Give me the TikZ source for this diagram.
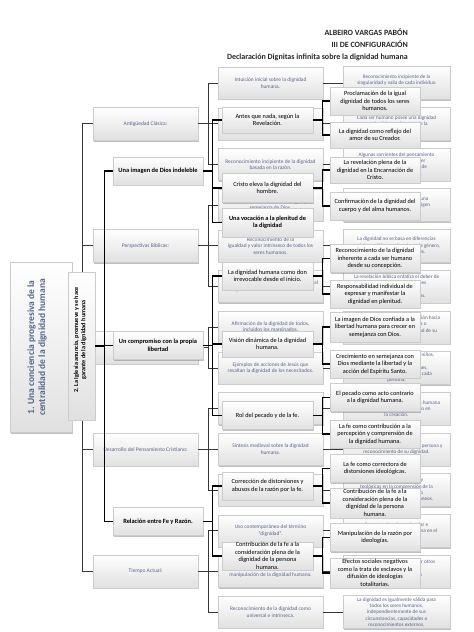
\documentclass[tikz,border=0pt]{standalone}
\usepackage{fontspec}
\setmainfont{Carlito}
\usetikzlibrary{shadows}

\definecolor{txA}{RGB}{88,102,138}
\definecolor{lnA}{RGB}{55,55,55}

\newcommand{\ctext}[2]{\hbox to 0pt{\hss\vbox to 0pt{\vss\hsize=#1\relax\centering #2\par\vss}\hss}}

\tikzset{
  shadowbox/.style={draw=black!20, line width=0.4pt, top color=white, bottom color=black!12, inner sep=0pt,
    drop shadow={shadow xshift=1.3pt, shadow yshift=-1.3pt, opacity=0.45, fill=black!55}},
  colAtwo/.style={shadowbox, minimum width=105pt, minimum height=33pt, text=txA, font=\fontsize{5.5}{6.6}\selectfont},
  colAthree/.style={shadowbox, minimum width=105pt, minimum height=32pt, text=txA, font=\fontsize{5.4}{6.5}\selectfont},
  colAfour/.style={shadowbox, minimum width=107pt, minimum height=33pt, text=txA, font=\fontsize{5.2}{6.3}\selectfont},
  colBtwo/.style={shadowbox, minimum width=90pt, minimum height=28pt, font=\bfseries\fontsize{6.4}{7.6}\selectfont},
  colBthree/.style={shadowbox, minimum width=91pt, minimum height=28pt, font=\fontsize{6.3}{7.5}\selectfont},
  colBfour/.style={shadowbox, minimum width=90pt, minimum height=28pt, font=\fontsize{6.3}{7.5}\selectfont},
  linkA/.style={draw=lnA, line width=0.8pt},
  linkB/.style={draw=black, line width=1.3pt},
}

\begin{document}
\begin{tikzpicture}[x=1pt,y=-1pt]
\useasboundingbox (0,0) rectangle (474,632);

% header
\node[anchor=east, align=right, font=\bfseries\fontsize{8}{12}\selectfont, text=black!85, inner sep=0pt] (title) at (408,45)
  {ALBEIRO VARGAS PABÓN\\III DE CONFIGURACIÓN\\Declaración Dignitas infinita sobre la dignidad humana};

% ================= TREE A =================
\node[shadowbox, minimum width=62pt, minimum height=170pt] (rootA) at (41,347.5) {};
\node[rotate=90, text=txA, font=\bfseries\fontsize{9.5}{11}\selectfont, align=center, inner sep=0pt] (rootAtext)
  at ([xshift=-4pt]rootA.center) {1. Una conciencia progresiva de la\\centralidad de la dignidad humana};

\node[colAtwo] (a21) at (145.5,123.7) {\ctext{100pt}{Antigüedad Clásica:}};
\node[colAtwo] (a22) at (145.5,245.8) {\ctext{100pt}{Perspectivas Bíblicas:}};
\node[colAtwo] (a23) at (145.5,347.5) {};
\node[colAtwo] (a24) at (145.5,449.3) {\ctext{100pt}{Desarrollo del Pensamiento Cristiano:}};
\node[colAtwo] (a25) at (145.5,571.4) {\ctext{100pt}{Tiempo Actual:}};

\node[colAthree] (a31) at (270.5,83) {\ctext{120pt}{Intuición inicial sobre la dignidad\\humana.}};
\node[colAthree] (a32) at (270.5,123.7) {};
\node[colAthree] (a33) at (270.5,164.4) {\ctext{120pt}{Reconocimiento incipiente de la dignidad\\basada en la razón.}};
\node[colAthree] (a34) at (270.5,205.1) {\ctext{120pt}{El ser humano creado a imagen y\\semejanza de Dios.}};
\node[colAthree] (a35) at (270.5,245.8) {\ctext{120pt}{Reconocimiento de la\\igualdad y valor intrínseco de todos los\\seres humanos.}};
\node[colAthree] (a36) at (270.5,286.5) {\ctext{120pt}{Enseñanza de Jesús sobre el amor universal\\y el cuidado de los necesitados.}};
\node[colAthree] (a37) at (270.5,327.2) {\ctext{120pt}{Afirmación de la dignidad de todos,\\incluidos los marginados.}};
\node[colAthree] (a38) at (270.5,367.9) {\ctext{120pt}{Ejemplos de acciones de Jesús que\\resaltan la dignidad de los necesitados.}};
\node[colAthree] (a39) at (270.5,408.6) {\ctext{120pt}{Aportes patrísticos y su contribución\\a la dignidad humana.}};
\node[colAthree] (a310) at (270.5,449.3) {\ctext{120pt}{Síntesis medieval sobre la dignidad\\humana.}};
\node[colAthree] (a311) at (270.5,490) {};
\node[colAthree] (a312) at (270.5,530.7) {\ctext{120pt}{Uso contemporáneo del término\\“dignidad”.}};
\node[colAthree] (a313) at (270.5,571.4) {\ctext{120pt}{Riesgo de la\\manipulación de la dignidad humana.}};
\node[colAthree] (a314) at (270.5,612.1) {\ctext{120pt}{Reconocimiento de la dignidad como\\universal e intrínseca.}};

\node[colAfour] (a41) at (396.5,83) {\ctext{120pt}{Reconocimiento incipiente de la\\singularidad y valía de cada individuo\\como seres humanos.}};
\node[colAfour] (a42) at (396.5,123.7) {\ctext{120pt}{Cada ser humano posee una dignidad\\que lo sitúa en el centro de la\\reflexión ética.}};
\node[colAfour] (a43) at (396.5,164.4) {\ctext{120pt}{Algunas corrientes del pensamiento\\comenzaron a valorar al ser\\humano por su capacidad de\\razón y responsabilidad.}};
\node[colAfour] (a44) at (396.5,205.1) {\ctext{120pt}{Los seres humanos tienen una\\dignidad que viene de su origen\\divino.}};
\node[colAfour] (a45) at (396.5,245.8) {\ctext{120pt}{La dignidad no se basa en diferencias\\sociales, políticas, culturales o de género,\\sino que es común a todos.}};
\node[colAfour] (a46) at (396.5,286.5) {\ctext{120pt}{La revelación bíblica enfatiza el deber de\\cuidar a los más vulnerables\\como los pobres, los\\extranjeros y los huérfanos.}};
\node[colAfour] (a47) at (396.5,327.2) {\ctext{120pt}{Jesús muestra especial predilección hacia\\los pobres, los marginados o\\excluidos, resaltando la dignidad de su\\condición.}};
\node[colAfour] (a48) at (396.5,367.9) {\ctext{120pt}{Jesús sana enfermos, acoge a niños,\\presta atención a\\pecadores en sus situaciones,\\reconociendo la dignidad de cada\\persona.}};
\node[colAfour] (a49) at (396.5,408.6) {\ctext{120pt}{Se subraya el valor de la persona humana\\como ser creado por el Único en\\la creación.}};
\node[colAfour] (a410) at (396.5,449.3) {\ctext{120pt}{Profundización en el concepto de persona y\\reconocimiento de su dignidad.}};
\node[colAfour] (a411) at (396.5,490) {\ctext{120pt}{Aportaciones filosóficas y\\teológicas en la comprensión de la\\persona: el personalismo\\y otros enfoques contemporáneos.}};
\node[colAfour] (a412) at (396.5,530.7) {\ctext{120pt}{Destacar el carácter singular e\\irrepetible de la persona humana en el\\mundo actual.}};
\node[colAfour] (a413) at (396.5,571.4) {\ctext{120pt}{La dignidad no es otorgada por otros\\ni está sujeta a\\condiciones, sino que es\\un don recibido.}};
\node[colAfour] (a414) at (396.5,612.1) {\ctext{120pt}{La dignidad es igualmente válida para\\todos los seres humanos,\\independientemente de sus\\circunstancias, capacidades o\\reconocimientos externos.}};

% tree A connectors
\foreach \c in {a21,a22,a23,a24,a25} \draw[linkA] (rootA.east) -- ++(10,0) |- (\c.west);
\foreach \c in {a31,a32,a33} \draw[linkA] (a21.east) -- ++(10,0) |- (\c.west);
\foreach \c in {a34,a35,a36} \draw[linkA] (a22.east) -- ++(10,0) |- (\c.west);
\foreach \c in {a37,a38} \draw[linkA] (a23.east) -- ++(10,0) |- (\c.west);
\foreach \c in {a39,a310,a311} \draw[linkA] (a24.east) -- ++(10,0) |- (\c.west);
\foreach \c in {a312,a313,a314} \draw[linkA] (a25.east) -- ++(10,0) |- (\c.west);
\foreach \i in {1,...,14} \draw[linkA] (a3\i.east) -- (a4\i.west);

% ================= TREE B =================
\node[shadowbox, minimum width=27pt, minimum height=148pt] (rootB) at (81.5,346) {};
\node[rotate=90, font=\bfseries\fontsize{6.2}{7.2}\selectfont, align=center, inner sep=0pt] (rootBtext)
  at ([xshift=-1.5pt, yshift=6pt]rootB.center) {2. La Iglesia anuncia, promueve y se hace\\garante de la dignidad humana};

\node[colBtwo] (b21) at (158,171) {\ctext{100pt}{Una imagen de Dios indeleble}};
\node[colBtwo] (b22) at (158,345.5) {\ctext{100pt}{Un compromiso con la propia\\libertad}};
\node[colBtwo] (b23) at (158,521.5) {\ctext{100pt}{Relación entre Fe y Razón.}};

\node[colBthree, minimum height=26pt] (b31) at (267.5,120) {\ctext{110pt}{Antes que nada, según la\\Revelación.}};
\node[colBthree, minimum height=29pt] (b32) at (267.5,188) {\ctext{110pt}{Cristo eleva la dignidad del\\hombre.}};
\node[colBthree, minimum height=29pt, font=\bfseries\fontsize{6.3}{7.5}\selectfont] (b33) at (267.5,222.5) {\ctext{110pt}{Una vocación a la plenitud de\\la dignidad}};
\node[colBthree] (b34) at (267.5,276) {\ctext{110pt}{La dignidad humana como don\\irrevocable desde el inicio.}};
\node[colBthree, minimum height=26pt] (b35) at (267.5,344) {\ctext{110pt}{Visión dinámica de la dignidad\\humana.}};
\node[colBthree] (b36) at (267.5,415.5) {\ctext{110pt}{Rol del pecado y de la fe.}};
\node[colBthree] (b37) at (267.5,486) {\ctext{110pt}{Corrección de distorsiones y\\abusos de la razón por la fe.}};
\node[colBthree] (b38) at (267.5,556) {\ctext{110pt}{Contribución de la fe a la\\consideración plena de la\\dignidad de la persona\\humana.}};

\node[colBfour] (b41) at (375,101) {\ctext{110pt}{Proclamación de la igual\\dignidad de todos los seres\\humanos.}};
\node[colBfour, minimum height=26pt] (b42) at (375,135) {\ctext{110pt}{La dignidad como reflejo del\\amor de su Creador.}};
\node[colBfour, minimum height=26pt] (b43) at (375,170) {\ctext{110pt}{La revelación plena de la\\dignidad en la Encarnación de\\Cristo.}};
\node[colBfour] (b44) at (375,206) {\ctext{110pt}{Confirmación de la dignidad del\\cuerpo y del alma humanos.}};
\node[colBfour] (b45) at (375,258.5) {\ctext{110pt}{Reconocimiento de la dignidad\\inherente a cada ser humano\\desde su concepción.}};
\node[colBfour] (b46) at (375,294) {\ctext{110pt}{Responsabilidad individual de\\expresar y manifestar la\\dignidad en plenitud.}};
\node[colBfour, minimum height=30pt] (b47) at (375,327) {\ctext{110pt}{La imagen de Dios confiada a la\\libertad humana para crecer en\\semejanza con Dios.}};
\node[colBfour] (b48) at (375,364) {\ctext{110pt}{Crecimiento en semejanza con\\Dios mediante la libertad y la\\acción del Espíritu Santo.}};
\node[colBfour] (b49) at (375,397.5) {\ctext{110pt}{El pecado como acto contrario\\a la dignidad humana.}};
\node[colBfour] (b410) at (375,434) {\ctext{110pt}{La fe como contribución a la\\percepción y comprensión de\\la dignidad humana.}};
\node[colBfour] (b411) at (375,468.5) {\ctext{110pt}{La fe como correctora de\\distorsiones ideológicas.}};
\node[colBfour, minimum height=30pt] (b412) at (375,503) {\ctext{110pt}{Contribución de la fe a la\\consideración plena de la\\dignidad de la persona\\humana.}};
\node[colBfour] (b413) at (375,537.5) {\ctext{110pt}{Manipulación de la razón por\\ideologías.}};
\node[colBfour, minimum height=30pt] (b414) at (375,573) {\ctext{110pt}{Efectos sociales negativos\\como la trata de esclavos y la\\difusión de ideologías\\totalitarias.}};

% tree B connectors
\foreach \c in {b21,b22,b23} \draw[linkB] (rootB.east) -- ++(9,0) |- (\c.west);
\foreach \c in {b31,b32,b33} \draw[linkB] (b21.east) -- ++(9,0) |- (\c.west);
\foreach \c in {b34,b35,b36} \draw[linkB] (b22.east) -- ++(9,0) |- (\c.west);
\foreach \c in {b37,b38} \draw[linkB] (b23.east) -- ++(9,0) |- (\c.west);
\foreach \c in {b41,b42} \draw[linkB] (b31.east) -- ++(9,0) |- (\c.west);
\foreach \c in {b43,b44} \draw[linkB] (b32.east) -- ++(9,0) |- (\c.west);
\foreach \c in {b45,b46} \draw[linkB] (b34.east) -- ++(9,0) |- (\c.west);
\foreach \c in {b47,b48} \draw[linkB] (b35.east) -- ++(9,0) |- (\c.west);
\foreach \c in {b49,b410} \draw[linkB] (b36.east) -- ++(9,0) |- (\c.west);
\foreach \c in {b411,b412} \draw[linkB] (b37.east) -- ++(9,0) |- (\c.west);
\foreach \c in {b413,b414} \draw[linkB] (b38.east) -- ++(9,0) |- (\c.west);

\end{tikzpicture}
\end{document}
